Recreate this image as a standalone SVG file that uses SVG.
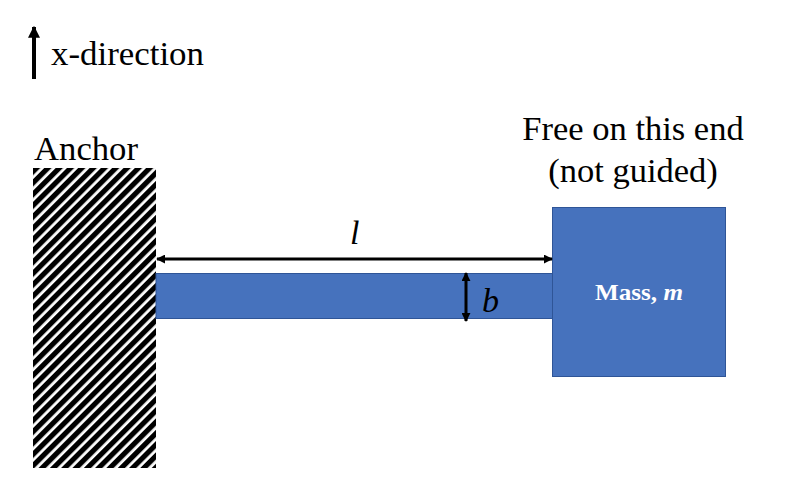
<svg xmlns="http://www.w3.org/2000/svg" width="790" height="488" viewBox="0 0 790 488">
<style>
text{font-family:"Liberation Serif","Times New Roman",serif;fill:#000}
.lbl{font-size:33px}
.free{font-size:34.500px}
.blk{fill:#4672bd;stroke:#2f5597;stroke-width:1}
.dim{stroke:#000;stroke-width:3;fill:none}
.up{stroke:#000;stroke-width:4;fill:none}
</style>
<defs>
<pattern id="hatch" width="8" height="8" patternUnits="userSpaceOnUse" patternTransform="translate(33 168) rotate(45)">
<rect width="8" height="8" fill="#fff"/>
<rect width="5.2" height="8" fill="#000"/>
</pattern>
<marker id="ah" viewBox="0 0 10 10" refX="9" refY="5" markerWidth="3" markerHeight="3" markerUnits="strokeWidth" orient="auto-start-reverse">
<path d="M0 0L10 5L0 10Z" fill="#000"/>
</marker>
</defs>
<rect width="790" height="488" fill="#fff"/>
<g id="x-direction">
<text class="lbl" x="51" y="65" textLength="153" lengthAdjust="spacingAndGlyphs">x-direction</text>
</g>
<g id="anchor">
<text class="lbl" x="34" y="160" textLength="104" lengthAdjust="spacingAndGlyphs">Anchor</text>
<rect x="33" y="168" width="123" height="300" fill="url(#hatch)"/>
</g>
<g id="beam">
<rect class="blk" x="156" y="273.500" width="397" height="45"/>
</g>
<g id="mass">
<rect class="blk" x="552.500" y="207.500" width="173" height="169"/>
<text x="595" y="300" font-size="24" font-weight="bold" style="fill:#fff" textLength="88" lengthAdjust="spacingAndGlyphs">Mass, <tspan font-style="italic">m</tspan></text>
</g>
<g id="free-label">
<text class="free" x="633" y="140" text-anchor="middle">Free on this end</text>
<text class="free" x="633" y="182" text-anchor="middle">(not guided)</text>
</g>
<g id="connectors">
<line class="up" x1="34" y1="79" x2="34" y2="27" marker-end="url(#ah)"/>
<line class="dim" x1="157" y1="259" x2="552" y2="259" marker-start="url(#ah)" marker-end="url(#ah)"/>
<line class="dim" x1="466" y1="273" x2="466" y2="321" marker-start="url(#ah)" marker-end="url(#ah)"/>
</g>
<text x="350" y="244" font-size="34" font-style="italic">l</text>
<text x="482" y="312" font-size="34" font-style="italic">b</text>
</svg>
